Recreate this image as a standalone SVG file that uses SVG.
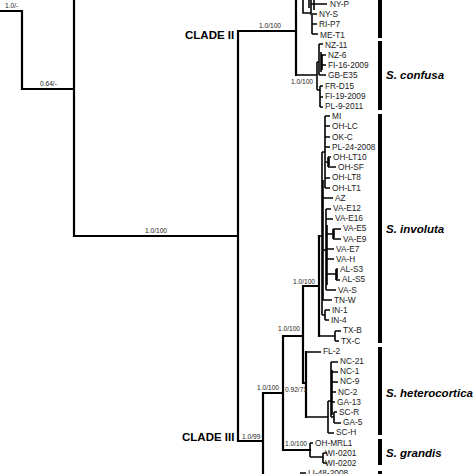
<svg xmlns="http://www.w3.org/2000/svg" width="474" height="474" viewBox="0 0 474 474">
<style>
.br{fill:none;stroke:#000;stroke-width:2.2;stroke-linecap:square}
.tp{fill:none;stroke:#000;stroke-width:1.6}
.leaf{font-family:"Liberation Sans",Arial,sans-serif;font-size:8.3px;fill:#1a1a1a}
.sup{font-family:"Liberation Sans",Arial,sans-serif;font-size:6.6px;fill:#222}
.clade{font-family:"Liberation Sans",Arial,sans-serif;font-size:11.5px;font-weight:bold;fill:#000}
.sp{font-family:"Liberation Sans",Arial,sans-serif;font-size:11.5px;font-weight:bold;font-style:italic;fill:#000}
.bar{fill:#000}
</style>
<rect width="474" height="474" fill="#fff"/>
<g id="connectors">
<path class="br" d="M0 11H22V89H74M74 0V236H238M238 31V441M238 31H296M296 -15V75M238 441H263M263 393V480M263 393H283M283 336V450M283 336H303M303 286V383M283 450H310M303 286H319M319 236V336M303 383H306M306 352V417"/>
<path class="tp" d="M296 -15H303M303 -8V13H311M311 0V15M309 0V8M314 0V10M311 4H327M312 15V34M312 14H317M312 24H317M312 34H318"/>
<path class="tp" d="M296 75H317M317 62V90M317 62H319M319 44V75M319 44H323M321 52V72M322 55V70M321 55H326M321 65H326M319 75H326M317 90H320M320 86V107M320 86H323M320 97H323M320 107H323"/>
<path class="tp" d="M319 236H322M322 152V315M323 180V300M322 152H325M325 116V188M325 116H330M325 126H330M325 137H330M325 147H330M325 162H328M328 157V167M329 158V166M328 157H331M328 167H336M325 178H330M325 188H330M322 198H333M322 250H326M326 209V290M327 225V285M326 209H331M326 219H333M326 234H333M333 229V239M334 230V238M333 229H341M333 239H341M326 249H334M326 259H334M326 274H336M336 269V280M337 270V279M336 269H338M336 280H340M326 290H336M322 300H332M322 315H325M325 310V320M325 310H330M325 320H329"/>
<path class="tp" d="M319 336H335M335 331V341M335 331H341M335 341H339"/>
<path class="tp" d="M306 352H321M306 417H328M328 401V433M328 401H331M331 362V417M332 370V415M331 362H338M331 372H338M331 382H338M331 392H336M331 402H335M331 417H334M334 412V423M334 412H337M334 423H341M328 433H334"/>
<path class="tp" d="M310 443V457M310 443H313M310 457H323M323 453V463M323 453H327M323 463H327M300 473H306"/>
</g>
<g id="support-values">
<text class="sup" x="5" y="8">1.0/-</text>
<text class="sup" x="40" y="86.3">0.64/-</text>
<text class="sup" x="145" y="233">1.0/100</text>
<text class="sup" x="259" y="28.3">1.0/100</text>
<text class="sup" x="291" y="84">1.0/100</text>
<text class="sup" x="293" y="284.3">1.0/100</text>
<text class="sup" x="278" y="331.3">1.0/100</text>
<text class="sup" x="257" y="390.3">1.0/100</text>
<text class="sup" x="285" y="392.3">0.92/71</text>
<text class="sup" x="242" y="439.3">1.0/99</text>
<text class="sup" x="285" y="446.3">1.0/100</text>
</g>
<g id="clade-labels">
<text class="clade" x="185" y="39">CLADE II</text>
<text class="clade" x="182" y="441">CLADE III</text>
</g>
<g id="leaves">
<text class="leaf" x="330" y="6.9">NY-P</text>
<text class="leaf" x="319" y="17.1">NY-S</text>
<text class="leaf" x="319" y="27.3">RI-P7</text>
<text class="leaf" x="320" y="37.5">ME-T1</text>
<text class="leaf" x="325" y="47.7">NZ-11</text>
<text class="leaf" x="328" y="57.9">NZ-6</text>
<text class="leaf" x="328" y="68.1">FI-16-2009</text>
<text class="leaf" x="328" y="78.3">GB-E35</text>
<text class="leaf" x="325" y="88.5">FR-D15</text>
<text class="leaf" x="325" y="98.7">FI-19-2009</text>
<text class="leaf" x="325" y="108.9">PL-9-2011</text>
<text class="leaf" x="332" y="119.1">MI</text>
<text class="leaf" x="332" y="129.3">OH-LC</text>
<text class="leaf" x="332" y="139.5">OK-C</text>
<text class="leaf" x="332" y="149.7">PL-24-2008</text>
<text class="leaf" x="333" y="159.9">OH-LT10</text>
<text class="leaf" x="338" y="170.1">OH-SF</text>
<text class="leaf" x="332" y="180.3">OH-LT8</text>
<text class="leaf" x="332" y="190.5">OH-LT1</text>
<text class="leaf" x="335" y="200.7">AZ</text>
<text class="leaf" x="333" y="210.9">VA-E12</text>
<text class="leaf" x="335" y="221.1">VA-E16</text>
<text class="leaf" x="343" y="231.3">VA-E5</text>
<text class="leaf" x="343" y="241.5">VA-E9</text>
<text class="leaf" x="336" y="251.7">VA-E7</text>
<text class="leaf" x="336" y="261.9">VA-H</text>
<text class="leaf" x="340" y="272.1">AL-S3</text>
<text class="leaf" x="342" y="282.3">AL-S5</text>
<text class="leaf" x="338" y="292.5">VA-S</text>
<text class="leaf" x="334" y="302.7">TN-W</text>
<text class="leaf" x="332" y="312.9">IN-1</text>
<text class="leaf" x="331" y="323.1">IN-4</text>
<text class="leaf" x="343" y="333.3">TX-B</text>
<text class="leaf" x="341" y="343.5">TX-C</text>
<text class="leaf" x="323" y="353.7">FL-2</text>
<text class="leaf" x="340" y="363.9">NC-21</text>
<text class="leaf" x="340" y="374.1">NC-1</text>
<text class="leaf" x="340" y="384.3">NC-9</text>
<text class="leaf" x="338" y="394.5">NC-2</text>
<text class="leaf" x="337" y="404.7">GA-13</text>
<text class="leaf" x="339" y="414.9">SC-R</text>
<text class="leaf" x="343" y="425.1">GA-5</text>
<text class="leaf" x="336" y="435.3">SC-H</text>
<text class="leaf" x="315" y="445.5">OH-MRL1</text>
<text class="leaf" x="325" y="455.7">WI-0201</text>
<text class="leaf" x="325" y="465.9">WI-0202</text>
<text class="leaf" x="308" y="476.1">LI-48-2008</text>
</g>
<g id="species">
<rect class="bar" x="378" y="0" width="4" height="38"/>
<rect class="bar" x="378" y="41" width="4" height="69"/>
<rect class="bar" x="378" y="114" width="4" height="229"/>
<rect class="bar" x="378" y="347" width="4" height="88"/>
<rect class="bar" x="378" y="439" width="4" height="26"/>
<rect class="bar" x="378" y="471" width="4" height="5"/>
<text class="sp" x="386" y="79">S. confusa</text>
<text class="sp" x="386" y="233">S. involuta</text>
<text class="sp" x="386" y="397">S. heterocortica</text>
<text class="sp" x="386" y="457">S. grandis</text>
</g>
</svg>
